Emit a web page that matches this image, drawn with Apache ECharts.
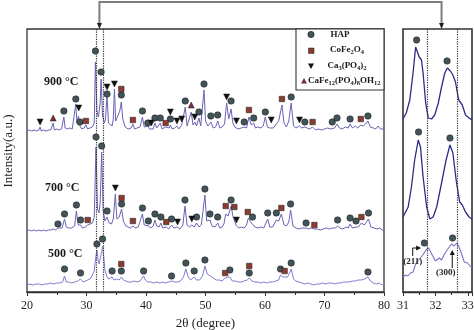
<!DOCTYPE html>
<html><head><meta charset="utf-8">
<script src="https://cdn.jsdelivr.net/npm/echarts@6/dist/echarts.min.js"></script>
<style>html,body{margin:0;padding:0;background:#fff}#c{width:474px;height:330px}</style>
</head><body><div id="c"></div>
<script>
// ---------- DATA ----------
const mainTicks = [20, 30, 40, 50, 60, 70, 80];
const zoomTicks = [31, 32, 33];
const temperatures = ['900 °C', '700 °C', '500 °C'];
const phases = ['HAP', 'CoFe2O4', 'Ca3(PO4)2', 'CaFe12(PO4)8OH12'];
const offset900 = 161, offset700 = 61, offset500 = 7;
const dashedMain = [31.7, 32.75];
const dashedZoom = [31.76, 32.67];

// relative intensities (a.u.) vs 2θ
const trace900 = [[20,0],[20.4,1],[20.8,0],[21.2,1],[21.6,0],[22.0,1],[22.2,4],[22.4,0],[22.8,1],[23.2,0],[23.6,1],[24.0,1],[24.2,0],[24.4,8],[24.6,1],[25.0,2],[25.4,1],[25.8,2],[26.0,3],[26.2,14],[26.4,3],[26.8,2],[27.2,3],[27.6,2],[27.9,4],[28.2,27],[28.4,8],[28.65,15],[28.9,5],[29.2,2],[29.6,3],[29.9,6],[30.2,2],[30.6,3],[31.0,4],[31.3,8],[31.5,69],[31.75,20],[32.0,14],[32.2,12],[32.3,28],[32.45,52],[32.7,15],[33.0,8],[33.2,12],[33.45,36],[33.7,8],[34.0,6],[34.3,5],[34.5,12],[34.7,42],[34.9,10],[35.2,10],[35.6,20],[35.85,29],[36.1,12],[36.5,4],[37.0,2],[37.5,3],[37.8,7],[38.1,2],[38.5,3],[39.0,4],[39.4,14],[39.7,4],[40.0,3],[40.3,5],[40.6,2],[40.9,4],[41.2,2],[41.5,8],[41.8,3],[42.1,4],[42.4,8],[42.7,2],[43.0,3],[43.3,4],[43.6,2],[43.9,3],[44.1,6],[44.4,2],[44.8,3],[45.2,5],[45.5,2],[45.8,4],[46.0,6],[46.3,4],[46.6,24],[46.9,5],[47.2,4],[47.6,19],[47.9,6],[48.2,9],[48.5,5],[48.9,13],[49.2,5],[49.5,6],[49.75,41],[50.0,10],[50.4,5],[50.9,9],[51.3,3],[51.7,4],[52.05,10],[52.4,3],[52.8,4],[53.2,7],[53.55,28],[53.9,12],[54.3,22],[54.6,8],[54.9,4],[55.2,5],[55.5,2],[56.0,3],[56.5,4],[56.9,3],[57.3,14],[57.7,6],[58.1,8],[58.4,3],[58.8,4],[59.3,3],[59.7,5],[60.05,14],[60.4,4],[60.8,3],[61.05,5],[61.4,3],[61.9,7],[62.3,10],[62.85,26],[63.2,8],[63.6,4],[64.0,10],[64.4,28],[64.8,5],[65.2,3],[65.5,2],[65.8,5],[66.2,3],[66.7,4],[67.0,2],[67.5,2],[68.0,4],[68.5,1],[69.0,2],[69.5,1],[70.0,2],[70.5,3],[71.0,2],[71.3,4],[71.7,3],[72.1,7],[72.5,3],[73.0,2],[73.5,4],[74.0,3],[74.3,7],[74.7,3],[75.2,5],[75.6,3],[76.1,6],[76.5,5],[76.9,7],[77.3,10],[77.7,4],[78.2,3],[78.6,2],[79.0,5],[79.4,2],[80.0,2]];
const trace700 = [[20,0],[20.4,1],[20.8,0],[21.2,1],[21.6,0],[22.0,1],[22.4,0],[22.8,1],[23.2,0],[23.6,1],[24.0,1],[24.4,2],[24.8,1],[25.2,3],[25.5,1],[25.9,3],[26.1,4],[26.3,12],[26.6,4],[27.0,3],[27.5,3],[28.0,5],[28.3,20],[28.6,6],[29.0,6],[29.3,3],[29.8,4],[30.2,6],[30.5,4],[31.0,8],[31.3,14],[31.6,84],[31.85,22],[32.1,18],[32.3,28],[32.55,79],[32.8,20],[33.1,10],[33.45,14],[33.8,8],[34.2,7],[34.5,12],[34.85,37],[35.1,12],[35.5,14],[35.9,22],[36.2,10],[36.6,5],[37.0,4],[37.4,3],[37.8,5],[38.2,3],[38.7,4],[39.0,5],[39.4,17],[39.7,6],[40.0,4],[40.4,5],[40.8,3],[41.2,5],[41.5,11],[41.8,5],[42.2,4],[42.5,8],[42.8,3],[43.1,4],[43.4,4],[43.8,2],[44.3,6],[44.7,3],[45.0,2],[45.3,4],[45.7,2],[46.2,6],[46.55,25],[46.9,6],[47.3,4],[47.7,6],[48.1,4],[48.5,8],[48.9,4],[49.3,6],[49.9,36],[50.2,10],[50.75,11],[51.1,5],[51.6,4],[52.05,8],[52.4,3],[52.8,4],[53.1,7],[53.4,17],[53.8,15],[54.3,25],[54.6,15],[54.85,17],[55.2,5],[55.6,3],[56.0,4],[56.5,3],[56.9,6],[57.2,13],[57.6,9],[57.9,8],[58.3,4],[58.8,3],[59.3,4],[59.8,3],[60.1,5],[60.45,12],[60.8,4],[61.3,4],[61.9,11],[62.3,10],[62.75,17],[63.2,6],[63.6,5],[64.0,9],[64.3,21],[64.7,5],[65.2,3],[65.7,2],[66.2,3],[66.9,3],[67.3,2],[67.8,3],[68.3,2],[68.8,2],[69.3,1],[69.8,2],[70.3,3],[70.8,2],[71.3,3],[71.8,3],[72.2,5],[72.6,3],[73.1,2],[73.6,4],[74.0,3],[74.3,7],[74.7,3],[75.3,4],[75.7,4],[76.2,8],[76.7,6],[77.0,7],[77.4,12],[77.8,4],[78.3,3],[78.8,2],[79.3,3],[79.7,1],[80,0]];
const trace500 = [[20,0],[20.5,1],[21,0],[21.5,1],[22,1],[22.5,0],[23,1],[23.5,1],[24,2],[24.5,1],[25,2],[25.5,2],[26.0,3],[26.3,9],[26.6,3],[27.0,3],[27.5,2],[28.0,3],[28.5,4],[29.0,6],[29.4,3],[29.8,4],[30.2,5],[30.6,6],[31.0,10],[31.3,14],[31.5,25],[31.75,35],[31.95,25],[32.15,21],[32.35,28],[32.55,33],[32.7,39],[32.9,28],[33.1,15],[33.4,9],[33.7,6],[34.0,7],[34.3,8],[34.6,5],[35.0,6],[35.5,5],[35.85,8],[36.2,5],[36.6,4],[37.0,3],[37.5,3],[38.0,4],[38.5,3],[39.0,4],[39.3,6],[39.6,9],[39.9,5],[40.3,3],[40.8,3],[41.3,2],[41.8,3],[42.3,2],[42.8,3],[43.3,2],[43.8,3],[44.3,4],[44.8,3],[45.3,3],[45.8,4],[46.3,8],[46.7,16],[47.1,8],[47.5,5],[48.1,8],[48.5,5],[49.0,5],[49.5,9],[49.9,19],[50.3,11],[50.8,9],[51.3,7],[51.8,5],[52.3,5],[52.8,4],[53.3,7],[53.7,8],[54.1,8],[54.5,4],[55.0,4],[55.5,3],[56.0,3],[56.5,4],[57.0,5],[57.35,7],[57.8,4],[58.3,3],[58.8,3],[59.3,2],[59.8,3],[60.3,2],[60.8,3],[61.3,3],[61.8,4],[62.3,5],[62.6,10],[63.0,8],[63.3,9],[63.8,8],[64.4,16],[64.8,6],[65.2,4],[65.7,3],[66.2,2],[66.7,1],[67.2,2],[67.7,1],[68.2,0],[68.7,1],[69.2,1],[69.7,2],[70.2,1],[70.7,2],[71.2,2],[71.7,1],[72.2,2],[72.7,2],[73.2,3],[73.7,3],[74.2,3],[74.7,4],[75.2,4],[75.7,5],[76.2,5],[76.7,6],[77.3,8],[77.7,4],[78.2,2],[78.7,1],[79.2,2],[79.7,0],[80,1]];

// zoomed panel (stacked intensities, a.u.)
const zoom900 = [[31.0,173],[31.1,179],[31.21,192],[31.31,219],[31.39,245],[31.43,247],[31.5,235],[31.57,232],[31.62,219],[31.7,189],[31.78,174],[31.88,173],[31.98,177],[32.09,189],[32.19,205],[32.29,219],[32.37,224],[32.46,221],[32.54,217],[32.62,210],[32.72,192],[32.83,187],[32.93,177],[33.04,174],[33.13,172]];
const zoom700 = [[31.0,75],[31.16,85],[31.26,105],[31.36,132],[31.47,152],[31.54,145],[31.62,115],[31.73,85],[31.83,73],[31.93,75],[32.04,85],[32.19,109],[32.33,132],[32.45,147],[32.54,139],[32.64,112],[32.75,90],[32.83,87],[32.93,80],[33.04,75],[33.13,73]];
const zoom500 = [[31.0,15],[31.08,17],[31.15,16],[31.23,19],[31.31,20],[31.36,25],[31.41,29],[31.46,28],[31.51,33],[31.56,32],[31.61,37],[31.66,38],[31.71,42],[31.79,44],[31.87,39],[31.95,34],[32.0,31],[32.05,29],[32.12,34],[32.19,32],[32.28,38],[32.36,42],[32.43,45],[32.5,48],[32.58,46],[32.66,49],[32.73,45],[32.81,38],[32.89,30],[32.99,29],[33.05,27],[33.13,24]];

// phase markers [2θ, stacked intensity]
const hapMain = [[26.2,181],[28.2,193],[28.9,170],[31.5,241],[32.45,220],[33.45,198],[35.85,197],[39.4,181],[40.3,169],[41.5,174],[42.4,174],[44.1,173],[46.6,191],[48.9,180],[49.75,208],[50.9,176],[52.05,177],[54.3,191],[56.5,170],[58.1,174],[60.05,180],[64.4,195],[66.7,170],[71.3,170],[72.1,174],[74.3,173],[77.3,176],
  [25.2,68],[26.3,78],[28.3,87],[29.0,72],[31.6,155],[32.55,146],[33.45,81],[35.9,88],[39.4,84],[40.4,71],[41.5,78],[42.5,75],[44.3,73],[46.55,92],[48.5,75],[49.9,103],[50.75,78],[52.05,75],[54.3,92],[57.9,75],[60.45,79],[61.9,79],[64.3,88],[66.9,69],[72.2,72],[74.3,74],[75.3,71],[77.4,79],
  [26.3,23],[29.0,19],[31.75,48],[32.7,53],[34.3,21],[35.85,21],[39.6,21],[44.3,16],[46.7,29],[48.1,21],[49.9,32],[54.1,22],[57.35,19],[62.6,23],[64.4,29],[77.3,20]];
const cofeMain = [[29.9,171],[35.85,203],[37.8,172],[43.3,169],[57.3,182],[62.85,193],[68.0,170],[76.1,173],
  [30.2,72],[35.9,94],[37.8,71],[43.4,70],[53.4,86],[54.85,85],[57.1,80],[62.75,84],[68.3,67],[76.2,75],
  [35.85,28],[53.3,19],[57.35,26],[63.3,21]];
const capoMain = [[22.2,170],[28.7,184],[33.45,205],[34.7,208],[40.9,169],[44.1,180],[45.2,171],[46.0,173],[48.2,175],[53.55,195],[55.2,171],[61.05,172],[65.8,172],
  [34.85,104],[45.3,70],[47.7,73],[55.2,72]];
const cafeMain = [[24.4,174],[47.6,187]];
const hapZoom = [[31.42,252],[32.36,231],[31.48,160],[32.45,154],[31.66,49],[32.53,54]];

// ---------- CHART ----------
const TXT = '"Liberation Serif","Times New Roman",serif';
const stack = (tr, off) => tr.map(p => [p[0], p[1] + off]);
const line = (data, i, color, w) => ({type:'line', data, xAxisIndex:i, yAxisIndex:i, symbol:'none', lineStyle:{color, width:w}, silent:true, z:2});
const scat = (data, i, sym, color, size, rot) => ({type:'scatter', data, xAxisIndex:i, yAxisIndex:i, symbol:sym, symbolSize:size, symbolRotate:rot||0, itemStyle:{color, borderColor:'#1a1a1a', borderWidth:0.5, opacity:1}, silent:true, z:5});
const dashed = (vals) => ({symbol:['none','none'], silent:true, label:{show:false}, lineStyle:{type:'dotted', color:'#333', width:1.2}, data: vals.map(v => ({xAxis:v}))});

const axisX = (i, min, max, extra) => Object.assign({type:'value', gridIndex:i, min, max, interval:1,
  axisLine:{lineStyle:{color:'#333', width:1.3}}, axisTick:{length:4, lineStyle:{color:'#333'}},
  minorTick:{show:true, splitNumber:2, length:3, lineStyle:{color:'#333'}},
  axisLabel:{fontFamily:TXT, fontSize:12, color:'#222', margin:8}, splitLine:{show:false}, minorSplitLine:{show:false}}, extra);

const chart = echarts.init(document.getElementById('c'));
const s900 = line(stack(trace900, offset900), 0, '#6a62b6', 1);
s900.markLine = dashed(dashedMain);
const z900 = line(zoom900, 1, '#2b2d86', 1.3);
z900.markLine = dashed(dashedZoom);
chart.setOption({
  animation:false, backgroundColor:'#fff',
  grid:[{left:27, right:90, top:29, bottom:38, show:true, borderColor:'#333', borderWidth:1.3, outerBoundsMode:'none'},
        {left:403, right:2, top:29, bottom:38, show:true, borderColor:'#333', borderWidth:1.6, outerBoundsMode:'none'}],
  xAxis:[axisX(0, mainTicks[0], mainTicks[mainTicks.length-1], {interval:10, name:'2θ (degree)', nameLocation:'middle', nameGap:18,
          nameTextStyle:{fontFamily:TXT, fontSize:13, color:'#222'}}),
         axisX(1, zoomTicks[0], 33.13, {axisLabel:{fontFamily:TXT, fontSize:12, color:'#222', margin:8, showMaxLabel:false}})],
  yAxis:[{type:'value', gridIndex:0, min:0, max:263, show:false}, {type:'value', gridIndex:1, min:0, max:263, show:false}],
  series:[
    s900,
    line(stack(trace700, offset700), 0, '#6a62b6', 1),
    line(stack(trace500, offset500), 0, '#837bd0', 1),
    z900,
    line(zoom700, 1, '#2b2d86', 1.3),
    line(zoom500, 1, '#7a71c9', 1.1),
    scat(hapMain, 0, 'circle', '#415459', 6.5),
    scat(cofeMain, 0, 'rect', '#8c3b2f', 5.5),
    scat(capoMain, 0, 'triangle', '#111', 6, 180),
    scat(cafeMain, 0, 'triangle', '#7b2d3b', 6),
    scat(hapZoom, 1, 'circle', '#415459', 6.5)
  ]
});

// ---------- ANNOTATIONS ----------
const P0 = (x, y) => chart.convertToPixel({gridIndex:0}, [x, y]);
const P1 = (x, y) => chart.convertToPixel({gridIndex:1}, [x, y]);
const ax1 = P0(32.17, 263)[0], ax2 = P1(32.19, 263)[0];
const g = [];
g.push({type:'polyline', shape:{points:[[ax1, 24],[ax1, 2],[ax2, 2],[ax2, 24]]}, style:{stroke:'#7d7d7d', lineWidth:2, fill:null}, z:10});
[ax1, ax2].forEach(x => g.push({type:'polygon', shape:{points:[[x-2.5, 23],[x+2.5, 23],[x, 29]]}, style:{fill:'#222'}, z:11}));
g.push({type:'text', x:9, y:151, rotation:Math.PI/2, style:{text:'Intensity(a.u.)', font:'13px ' + TXT, fill:'#222', align:'center', verticalAlign:'middle'}});
[[temperatures[0], 44, 82], [temperatures[1], 45, 188], [temperatures[2], 48, 254]].forEach(t =>
  g.push({type:'text', x:t[1], y:t[2], style:{text:t[0], font:'bold 12px ' + TXT, fill:'#1a1a1a', align:'left', verticalAlign:'middle'}}));

// legend box
const richStyle = {n:{fontSize:9, fontFamily:TXT, fontWeight:'bold', lineHeight:12, verticalAlign:'middle', fill:'#1a1a1a'},
                   s:{fontSize:6.5, fontFamily:TXT, fontWeight:'bold', lineHeight:6, verticalAlign:'bottom', fill:'#1a1a1a'}};
g.push({type:'rect', shape:{x:296, y:29, width:88, height:61}, style:{fill:'#fff', stroke:'#333', lineWidth:1.1}, z:20});
g.push({type:'circle', shape:{cx:311, cy:34.5, r:3.2}, style:{fill:'#415459', stroke:'#1a1a1a', lineWidth:0.5}, z:21});
g.push({type:'rect', shape:{x:308.5, y:48, width:5.5, height:5.5}, style:{fill:'#8c3b2f', stroke:'#1a1a1a', lineWidth:0.5}, z:21});
g.push({type:'polygon', shape:{points:[[308, 63.5],[314, 63.5],[311, 69]]}, style:{fill:'#111'}, z:21});
g.push({type:'polygon', shape:{points:[[301, 83.5],[307, 83.5],[304, 78]]}, style:{fill:'#7b2d3b'}, z:21});
const legTexts = [
  ['{n|HAP}', 340, 35, 'center'],
  ['{n|CoFe}{s|2}{n|O}{s|4}', 347, 50, 'center'],
  ['{n|Ca}{s|3}{n|(PO}{s|4}{n|)}{s|2}', 347, 66, 'center'],
  ['{n|CaFe}{s|12}{n|(PO}{s|4}{n|)}{s|8}{n|OH}{s|12}', 308, 81, 'left']
];
legTexts.forEach(t => g.push({type:'text', x:t[1], y:t[2], z:22, style:{text:t[0], rich:richStyle, align:t[3], verticalAlign:'middle'}}));

// (211) and (300) callouts
const a1 = P1(31.3, 36), a1b = P1(31.3, 44), a1c = P1(31.56, 44);
g.push({type:'polyline', shape:{points:[a1, a1b, [a1c[0]-4, a1b[1]]]}, style:{stroke:'#111', lineWidth:1, fill:null}, z:12});
g.push({type:'polygon', shape:{points:[[a1c[0]-5, a1b[1]-2.5],[a1c[0]-5, a1b[1]+2.5],[a1c[0], a1b[1]]]}, style:{fill:'#111'}, z:12});
const t1 = P1(31.3, 30);
g.push({type:'text', x:t1[0], y:t1[1], z:12, style:{text:'(211)', font:'bold 9px ' + TXT, fill:'#222', align:'center', verticalAlign:'middle'}});
const a2 = P1(32.52, 24), a2b = P1(32.52, 42);
g.push({type:'line', shape:{x1:a2[0], y1:a2[1], x2:a2b[0], y2:a2b[1]+4}, style:{stroke:'#111', lineWidth:1}, z:12});
g.push({type:'polygon', shape:{points:[[a2b[0]-2.5, a2b[1]+5],[a2b[0]+2.5, a2b[1]+5],[a2b[0], a2b[1]]]}, style:{fill:'#111'}, z:12});
const t2 = P1(32.32, 19);
g.push({type:'text', x:t2[0], y:t2[1], z:12, style:{text:'(300)', font:'bold 9px ' + TXT, fill:'#222', align:'center', verticalAlign:'middle'}});

chart.setOption({graphic:g});
</script>
</body></html>
